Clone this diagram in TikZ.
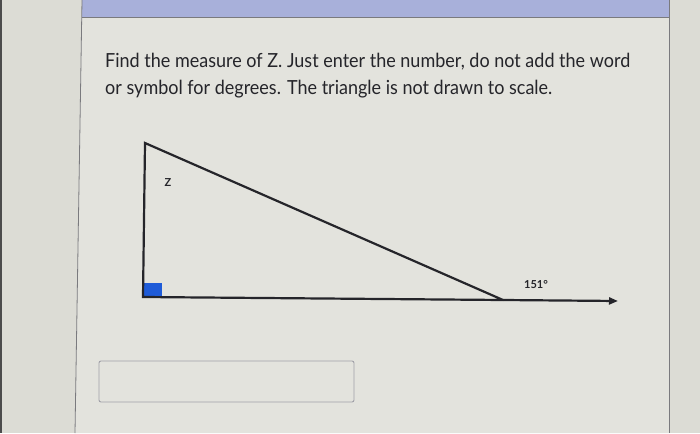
\documentclass[tikz,border=0pt]{standalone}
\usepackage{fontspec}
\setmainfont{Lato}
\usetikzlibrary{arrows.meta}
\definecolor{outerbg}{HTML}{DCDCD5}
\definecolor{panelbg}{HTML}{E3E3DD}
\definecolor{headerblue}{HTML}{A8B0DA}
\definecolor{ink}{HTML}{25252A}
\definecolor{edgegray}{HTML}{7A7A7E}
\definecolor{boxgray}{HTML}{A0A0A8}
\definecolor{markblue}{HTML}{1E5BD8}
\tikzset{
  qtext/.style={anchor=base west, inner sep=0pt, text=ink, yscale=1.08, font=\fontsize{18}{21}\selectfont},
  small/.style={inner sep=0pt, text=ink, font=\fontsize{11}{12}\selectfont\bfseries},
  side/.style={draw=ink, line width=2.2pt},
}
\begin{document}
\begin{tikzpicture}[x=1pt,y=-1pt]
\useasboundingbox (0,0) rectangle (700,433);
\fill[outerbg] (0,0) rectangle (700,433);
\fill[black!70] (0,0) rectangle (2,433);
% panel
\fill[panelbg] (82,0) -- (669,0) -- (669,433) -- (75,433) -- cycle;
\fill[headerblue] (82,0) rectangle (669,17);
\draw[edgegray, line width=0.8pt] (82,17) -- (669,17);
\draw[edgegray, line width=0.8pt] (82,0) -- (75,433);
\draw[edgegray, line width=0.8pt] (669,0) -- (669,433);
% question text
\node[qtext] (l1) at (105,68) {Find the measure of Z. Just enter the number, do not add the word};
\node[qtext] (l2) at (105,95) {or symbol for degrees. The triangle is not drawn to scale.};
% triangle
\coordinate (A) at (145,143);
\coordinate (B) at (143,297);
\coordinate (C) at (503,300);
\coordinate (D) at (618,301);
\fill[markblue] (143.5,283) rectangle (162,296.5);
\draw[side, line join=miter] (C) -- (A) -- (B) -- (C);
\draw[side, -{Triangle[length=9pt,width=7pt]}] (C) -- (D);
\node[small] (z) at (168,183) {Z};
\node[small] (ang) at (536,285) {151°};
% answer box
\draw[boxgray, line width=0.9pt, rounded corners=2pt] (99,361) rectangle (354,402);
\end{tikzpicture}
\end{document}
